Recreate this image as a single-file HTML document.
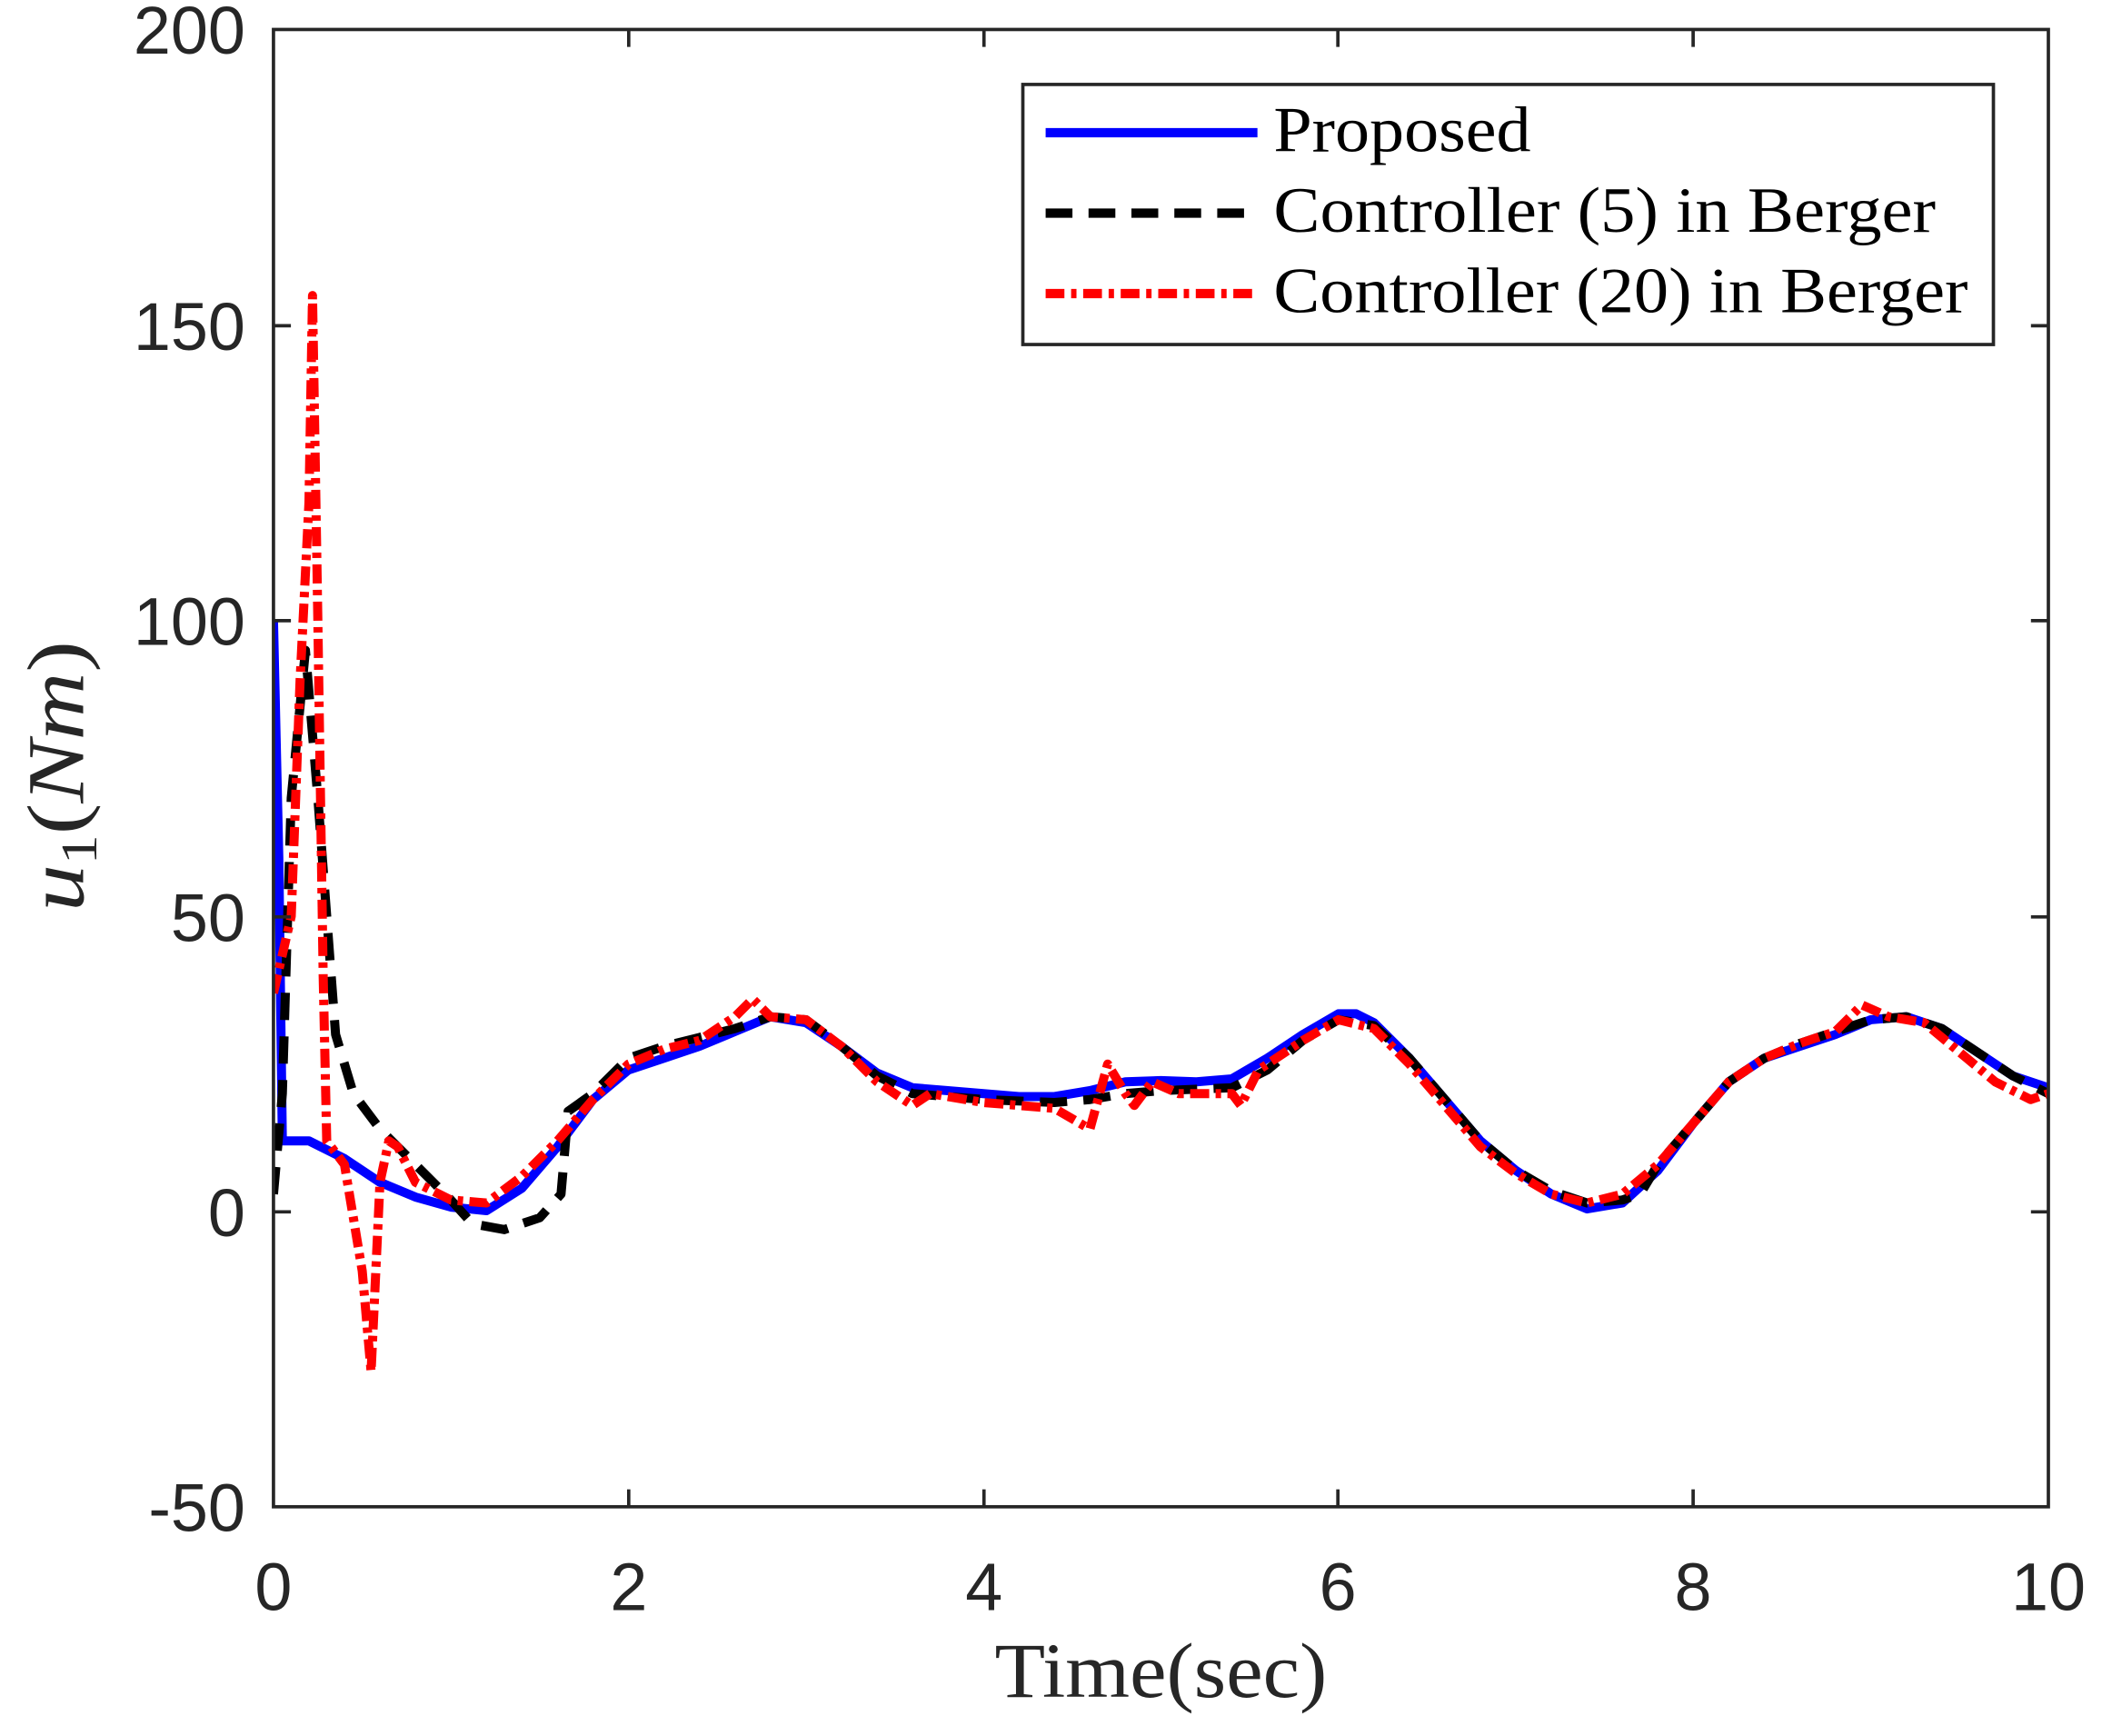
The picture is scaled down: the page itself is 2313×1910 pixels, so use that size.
<!DOCTYPE html>
<html><head><style>html,body{margin:0;padding:0;background:#fff}svg{display:block}</style></head><body>
<svg width="2313" height="1910" viewBox="0 0 1568 1295" preserveAspectRatio="none" xmlns="http://www.w3.org/2000/svg">
<defs><clipPath id="c"><rect x="204" y="22" width="1324" height="1102"/></clipPath></defs>
<rect width="1568" height="1295" fill="#fff"/>
<g clip-path="url(#c)" fill="none" stroke-linejoin="round">
<g transform="translate(204,904) scale(132.4,-4.41)">
<polyline vector-effect="non-scaling-stroke" stroke="#0000ff" stroke-width="10" points="0,100 0.03,60 0.05,12 0.2,12 0.4,9 0.6,5 0.8,2.5 1.0,0.8 1.2,0.2 1.4,4 1.6,11 1.8,19 2.0,24 2.2,26 2.4,28 2.6,30.5 2.8,33 3.0,32 3.2,28 3.4,23.5 3.6,21 3.8,20.5 4.0,20 4.2,19.5 4.4,19.5 4.6,20.5 4.8,22 5.0,22.2 5.2,22 5.4,22.5 5.6,26 5.8,30 6.0,33.5 6.1,33.5 6.2,32 6.4,26 6.6,19 6.8,12 7.0,7 7.2,3 7.4,0.5 7.6,1.5 7.8,7 8.0,15 8.2,22 8.4,26 8.6,28 8.8,30 9.0,32.5 9.2,33 9.4,31 9.6,27 9.8,23 10,21"/>
<polyline vector-effect="non-scaling-stroke" stroke="#000" stroke-width="10" stroke-dasharray="30 18" points="0,3 0.05,20 0.1,70 0.18,95 0.25,70 0.3,50 0.35,30 0.45,20 0.6,14 0.8,8 1.0,2 1.12,-2 1.3,-3 1.5,-1 1.62,3 1.66,17 1.8,20 2.0,26 2.2,28 2.4,29.5 2.6,31 2.8,33 3.0,32.5 3.2,28 3.4,23 3.6,20 3.8,19.5 4.0,19 4.4,18.5 4.6,19 4.8,20 5.0,20.5 5.4,21 5.6,24 5.8,29 6.0,32.5 6.2,31.5 6.4,26 6.6,19 6.8,12 7.0,7 7.2,3.5 7.4,1.5 7.6,2 7.7,3 7.8,8 8.0,15 8.2,22 8.4,26 8.6,28.5 8.8,30.5 9.0,32.5 9.2,33 9.4,31 9.6,27 9.8,23 10,20"/>
<polyline vector-effect="non-scaling-stroke" stroke="#ff0000" stroke-width="10" stroke-dasharray="21 7 6 7" points="0,37 0.1,50 0.15,90 0.2,120 0.22,155 0.25,100 0.28,40 0.3,12 0.4,8 0.5,-10 0.55,-27 0.6,5 0.65,12 0.7,11 0.8,5 1.0,2 1.2,1.5 1.4,6 1.6,12 1.8,19 2.0,25 2.2,27.5 2.4,29 2.6,33 2.7,36 2.8,33 3.0,32.5 3.2,28 3.4,22 3.6,18 3.7,20 4.0,18.5 4.4,17.5 4.6,14 4.7,25 4.8,20 4.85,18 4.95,22 5.1,20 5.4,20 5.45,18 5.55,24 5.8,29 6.0,32.5 6.2,31 6.4,25 6.6,18 6.8,11 7.0,6.5 7.2,3 7.4,1.5 7.6,3 7.8,8 8.0,15 8.2,22 8.4,26 8.6,28.5 8.8,30.5 8.95,35 9.1,33 9.3,32 9.5,27 9.7,22 9.9,19 10,20"/>
</g></g>
<g stroke="#262626" stroke-width="2.5" fill="none">
<rect x="204" y="22" width="1324" height="1102"/>
<path d="M469,1124v-13M734,1124v-13M998,1124v-13M1263,1124v-13M469,22v13M734,22v13M998,22v13M1263,22v13M204,243h13M204,463h13M204,684h13M204,904h13M1528,243h-13M1528,463h-13M1528,684h-13M1528,904h-13"/>
</g>
<g font-family="Liberation Sans, sans-serif" font-size="50" fill="#262626">
<g text-anchor="end"><text x="183" y="40">200</text><text x="183" y="261">150</text><text x="183" y="481">100</text><text x="183" y="702">50</text><text x="183" y="922">0</text><text x="183" y="1142">-50</text></g>
<g text-anchor="middle"><text x="204" y="1201">0</text><text x="469" y="1201">2</text><text x="734" y="1201">4</text><text x="998" y="1201">6</text><text x="1263" y="1201">8</text><text x="1528" y="1201">10</text></g>
</g>
<text x="742" y="1266" textLength="248" lengthAdjust="spacingAndGlyphs" font-family="Liberation Serif, serif" font-size="58" fill="#262626">Time(sec)</text>
<text transform="translate(62,680) rotate(-90)" textLength="202" lengthAdjust="spacingAndGlyphs" font-family="Liberation Serif, serif" font-size="60" fill="#262626"><tspan font-style="italic">u</tspan><tspan font-size="38" dy="10">1</tspan><tspan dy="-10">(</tspan><tspan font-style="italic">Nm</tspan>)</text>
<rect x="763" y="63" width="724" height="194" fill="#fff" stroke="#262626" stroke-width="2.5"/>
<line x1="780" y1="99" x2="938" y2="99" stroke="#0000ff" stroke-width="7"/>
<line x1="780" y1="159" x2="938" y2="159" stroke="#000" stroke-width="7" stroke-dasharray="20 12"/>
<line x1="780" y1="219" x2="938" y2="219" stroke="#ff0000" stroke-width="7" stroke-dasharray="14 5 4 5"/>
<g font-family="Liberation Serif, serif" font-size="48" fill="#000">
<text x="950" y="113" textLength="192" lengthAdjust="spacingAndGlyphs">Proposed</text>
<text x="950" y="173" textLength="494" lengthAdjust="spacingAndGlyphs">Controller (5) in Berger</text>
<text x="950" y="233" textLength="518" lengthAdjust="spacingAndGlyphs">Controller (20) in Berger</text>
</g>
</svg>
</body></html>
